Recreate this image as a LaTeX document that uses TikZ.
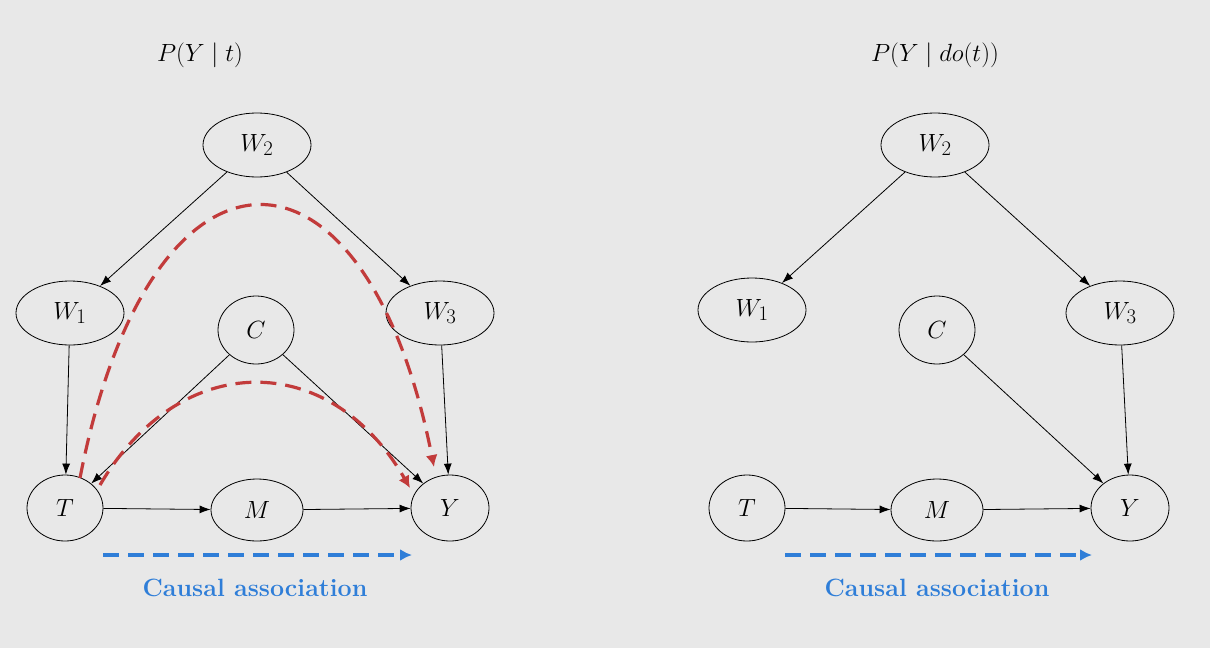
\documentclass[tikz,border=0pt]{standalone}
\usetikzlibrary{arrows.meta,shapes.geometric}
\definecolor{bg}{HTML}{E8E8E8}
\definecolor{rd}{HTML}{C23B3B}
\definecolor{bl}{HTML}{2F7ED8}
\begin{document}
\begin{tikzpicture}[x=1pt,y=-1pt,
 v/.style={draw,ellipse,line width=0.8pt,minimum width=#1,minimum height=64pt,inner sep=0pt,font=\fontsize{30}{36}\selectfont},
 v/.default=108pt,
 e/.style={-{Latex[length=11pt,width=8pt]},line width=0.8pt},
 red/.style={rd,dashed,line width=3.2pt,dash pattern=on 16pt off 9pt,-{Latex[length=12pt,width=12pt]}},
 blu/.style={bl,line width=3.2pt,dash pattern=on 16pt off 9pt,-{Latex[length=12pt,width=12pt]}},
 lab/.style={bl,font=\fontsize{25}{30}\selectfont\bfseries},
 ttl/.style={font=\fontsize{32}{38}\selectfont}]
\fill[bg] (0,0) rectangle (1210,648);
\useasboundingbox (0,0) rectangle (1210,648);
% left
\node[ttl] (t1) at (200,55) {$P(Y\mid t)$};
\node[v] (W2) at (257,145) {$W_2$};
\node[v] (W1) at (70,313) {$W_1$};
\node[v=76pt,minimum height=68pt] (C) at (256,330) {$C$};
\node[v] (W3) at (440,313) {$W_3$};
\node[v=76pt,minimum height=66pt] (T) at (65,508) {$T$};
\node[v=92pt,minimum height=62pt] (M) at (257,510) {$M$};
\node[v=78pt,minimum height=66pt] (Y) at (450,508) {$Y$};
\draw[e] (W2) -- (W1);
\draw[e] (W2) -- (W3);
\draw[e] (W1) -- (T);
\draw[e] (C) -- (T);
\draw[e] (C) -- (Y);
\draw[e] (W3) -- (Y);
\draw[e] (T) -- (M);
\draw[e] (M) -- (Y);
\coordinate (r1a) at (80,478); \coordinate (r1b) at (434,467);
\coordinate (r2a) at (100,485); \coordinate (r2b) at (410,488);
\draw[red] (r1a) .. controls (150,117) and (365,117) .. (r1b);
\draw[red] (r2a) .. controls (180,349) and (330,349) .. (r2b);
\coordinate (b1a) at (103,555); \coordinate (b1b) at (412,555);
\draw[blu] (b1a) -- (b1b);
\node[lab] (l1) at (255,588) {Causal association};
% right
\node[ttl] (t2) at (935,55) {$P(Y\mid do(t))$};
\node[v] (R2) at (935,145) {$W_2$};
\node[v] (R1) at (752,310) {$W_1$};
\node[v=76pt,minimum height=68pt] (RC) at (937,330) {$C$};
\node[v] (R3) at (1120,313) {$W_3$};
\node[v=76pt,minimum height=66pt] (RT) at (747,508) {$T$};
\node[v=92pt,minimum height=62pt] (RM) at (937,510) {$M$};
\node[v=78pt,minimum height=66pt] (RY) at (1130,508) {$Y$};
\draw[e] (R2) -- (R1);
\draw[e] (R2) -- (R3);
\draw[e] (RC) -- (RY);
\draw[e] (R3) -- (RY);
\draw[e] (RT) -- (RM);
\draw[e] (RM) -- (RY);
\coordinate (b2a) at (785,555); \coordinate (b2b) at (1092,555);
\draw[blu] (b2a) -- (b2b);
\node[lab] (l2) at (937,588) {Causal association};
\end{tikzpicture}
\end{document}
